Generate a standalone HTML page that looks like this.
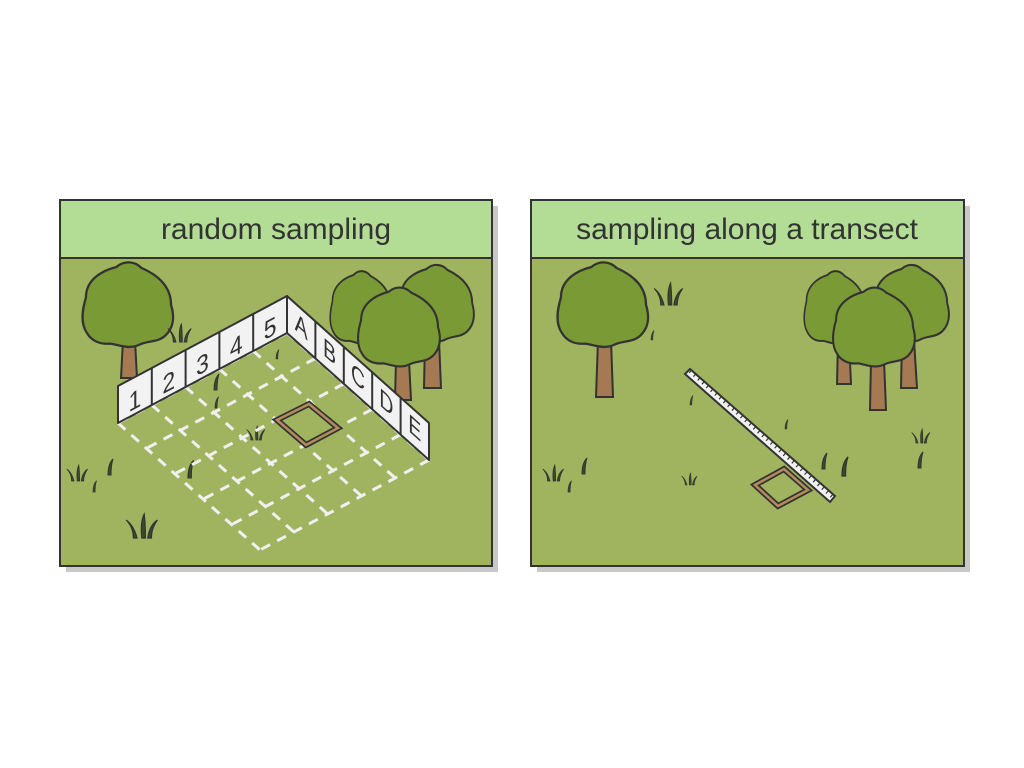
<!DOCTYPE html>
<html><head><meta charset="utf-8"><style>
body{margin:0;background:#fff;}
svg{display:block;}
</style></head><body>
<svg width="1024" height="768" viewBox="0 0 1024 768" xmlns="http://www.w3.org/2000/svg" font-family="Liberation Sans, Arial, sans-serif">
<defs>
<path id="crown" d="M -40,22 C -47,12 -44,-2 -41,-12 C -41,-30 -24,-38 -12,-41 C -5,-47 5,-47 12,-40 C 28,-33 40,-22 40,-5 C 44,8 42,17 35,24 C 28,31 18,29 10,33 C 0,38 -10,33 -18,32 C -28,33 -36,29 -40,22 Z" fill="#7a9a35" stroke="#333" stroke-width="2.2"/>
<g id="tuft" fill="#3a4a2a" stroke="#333" stroke-width="1"><path d="M0,0 C-2,-8 -5,-12 -9,-15 C-4,-10 -3,-5 -3,0 Z"/><path d="M4,0 C3,-10 4,-16 6,-20 C7,-12 7,-6 7,0 Z"/><path d="M9,0 C10,-8 13,-12 17,-15 C13,-9 12,-5 12,0 Z"/></g>
<g id="blade" fill="#3a4a2a" stroke="#333" stroke-width="1"><path d="M0,0 C0,-8 2,-13 5,-16 C3,-10 3,-5 3,0 Z"/></g>
</defs>
<rect x="66" y="206" width="432" height="366" fill="#c8c8c8"/>
<rect x="537" y="206" width="433" height="366" fill="#c8c8c8"/>
<rect x="60" y="200" width="432" height="366" fill="#a0b460" stroke="#333" stroke-width="2"/>
<rect x="60" y="200" width="432" height="58" fill="#b3dd95" stroke="#333" stroke-width="2"/>
<text x="276" y="239" font-size="30" text-anchor="middle" fill="#333">random sampling</text>
<rect x="531" y="200" width="433" height="366" fill="#a0b460" stroke="#333" stroke-width="2"/>
<rect x="531" y="200" width="433" height="58" fill="#b3dd95" stroke="#333" stroke-width="2"/>
<text x="747" y="239" font-size="30" text-anchor="middle" fill="#333">sampling along a transect</text>

<path d="M123,340 L121,378 L137,378 L135,340 Z" fill="#a57a52" stroke="#333" stroke-width="2"/>
<use href="#crown" transform="translate(129,310) scale(1.05,1.05)"/>
<path d="M425,340 L424,388 L441,388 L439,340 Z" fill="#a57a52" stroke="#333" stroke-width="2"/>
<use href="#crown" transform="translate(362,312) scale(0.72,0.9)"/>
<use href="#crown" transform="translate(437,308) scale(0.88,0.95)"/>
<path d="M396,360 L395,400 L411,400 L409,360 Z" fill="#a57a52" stroke="#333" stroke-width="2"/>
<use href="#crown" transform="translate(400,332) scale(0.95,0.98)"/>
<use href="#tuft" transform="translate(176,342) scale(0.9)"/>
<use href="#tuft" transform="translate(74,481) scale(0.8)"/>
<use href="#blade" transform="translate(108,475)"/>
<use href="#blade" transform="translate(93,492) scale(0.7)"/>
<use href="#tuft" transform="translate(137,538) scale(1.2)"/>
<use href="#blade" transform="translate(214,390)"/>
<use href="#blade" transform="translate(215,408) scale(0.7)"/>
<use href="#tuft" transform="translate(253,440) scale(0.7)"/>
<use href="#blade" transform="translate(188,478) scale(1.1)"/>
<use href="#blade" transform="translate(276,359) scale(0.6)"/>
<g stroke="#f0f0f0" stroke-width="3" stroke-dasharray="10 8" fill="none">
<line x1="287" y1="333" x2="429" y2="460"/><line x1="253.2" y1="351" x2="395.2" y2="478"/><line x1="219.4" y1="369" x2="361.4" y2="496"/><line x1="185.6" y1="387" x2="327.6" y2="514"/><line x1="151.8" y1="405" x2="293.8" y2="532"/><line x1="118" y1="423" x2="260" y2="550"/>
<line x1="287" y1="333" x2="118" y2="423"/><line x1="315.4" y1="358.4" x2="146.4" y2="448.4"/><line x1="343.8" y1="383.8" x2="174.8" y2="473.8"/><line x1="372.2" y1="409.2" x2="203.2" y2="499.2"/><line x1="400.6" y1="434.6" x2="231.6" y2="524.6"/><line x1="429" y1="460" x2="260" y2="550"/>
</g>
<polygon points="277,420 309,404 338,428 306,445" fill="none" stroke="#333" stroke-width="6"/>
<polygon points="277,420 309,404 338,428 306,445" fill="none" stroke="#b58a5c" stroke-width="2.5"/>
<g stroke="#333" stroke-width="2" fill="#f2f2f2" stroke-linejoin="round">
<polygon points="287,296 118,386 118,423 287,333"/>
<polygon points="287,296 429,423 429,460 287,333"/>
<line x1="253.2" y1="314" x2="253.2" y2="351"/><line x1="219.4" y1="332" x2="219.4" y2="369"/><line x1="185.6" y1="350" x2="185.6" y2="387"/><line x1="151.8" y1="368" x2="151.8" y2="405"/>
<line x1="315.4" y1="321.4" x2="315.4" y2="358.4"/><line x1="343.8" y1="346.8" x2="343.8" y2="383.8"/><line x1="372.2" y1="372.2" x2="372.2" y2="409.2"/><line x1="400.6" y1="397.6" x2="400.6" y2="434.6"/>
</g>
<g font-size="26" fill="#333" text-anchor="middle">
<text transform="matrix(0.883,-0.47,0,1,134.9,409)">1</text>
<text transform="matrix(0.883,-0.47,0,1,168.7,391)">2</text>
<text transform="matrix(0.883,-0.47,0,1,202.5,373)">3</text>
<text transform="matrix(0.883,-0.47,0,1,236.3,355)">4</text>
<text transform="matrix(0.883,-0.47,0,1,270.1,337)">5</text>
<text transform="matrix(0.745,0.667,0,1,301.2,335)">A</text>
<text transform="matrix(0.745,0.667,0,1,329.6,360.4)">B</text>
<text transform="matrix(0.745,0.667,0,1,358,385.8)">C</text>
<text transform="matrix(0.745,0.667,0,1,386.4,411.2)">D</text>
<text transform="matrix(0.745,0.667,0,1,414.8,436.6)">E</text>
</g>

<path d="M598,340 L596,397 L613,397 L611,340 Z" fill="#a57a52" stroke="#333" stroke-width="2"/>
<use href="#crown" transform="translate(604,310) scale(1.05,1.05)"/>
<path d="M838,340 L837,384 L851,384 L849,340 Z" fill="#a57a52" stroke="#333" stroke-width="2"/>
<path d="M902,340 L901,388 L917,388 L914,340 Z" fill="#a57a52" stroke="#333" stroke-width="2"/>
<use href="#crown" transform="translate(836,312) scale(0.72,0.9)"/>
<use href="#crown" transform="translate(912,308) scale(0.88,0.95)"/>
<path d="M871,360 L870,410 L886,410 L884,360 Z" fill="#a57a52" stroke="#333" stroke-width="2"/>
<use href="#crown" transform="translate(875,332) scale(0.95,0.98)"/>
<use href="#tuft" transform="translate(664,305) scale(1.1)"/>
<use href="#blade" transform="translate(651,340) scale(0.6)"/>
<use href="#blade" transform="translate(690,405) scale(0.6)"/>
<use href="#blade" transform="translate(785,429) scale(0.6)"/>
<use href="#tuft" transform="translate(550,481) scale(0.8)"/>
<use href="#blade" transform="translate(582,474)"/>
<use href="#blade" transform="translate(568,492) scale(0.7)"/>
<use href="#tuft" transform="translate(687,485) scale(0.6)"/>
<use href="#blade" transform="translate(822,469) scale(1.0)"/>
<use href="#blade" transform="translate(842,476) scale(1.2)"/>
<use href="#tuft" transform="translate(918,443) scale(0.7)"/>
<use href="#blade" transform="translate(918,468) scale(1.0)"/>
<polygon points="685,374 690,369 835,496 830,502" fill="#f2f2f2" stroke="#333" stroke-width="2"/>
<line x1="689" y1="373" x2="832" y2="499" stroke="#333" stroke-width="4" stroke-dasharray="1.2 4.5" transform="translate(1,-2)"/>
<polygon points="755,485 784,469 808,490 778,506" fill="none" stroke="#333" stroke-width="6"/>
<polygon points="755,485 784,469 808,490 778,506" fill="none" stroke="#b58a5c" stroke-width="2.5"/>
</svg>
</body></html>
